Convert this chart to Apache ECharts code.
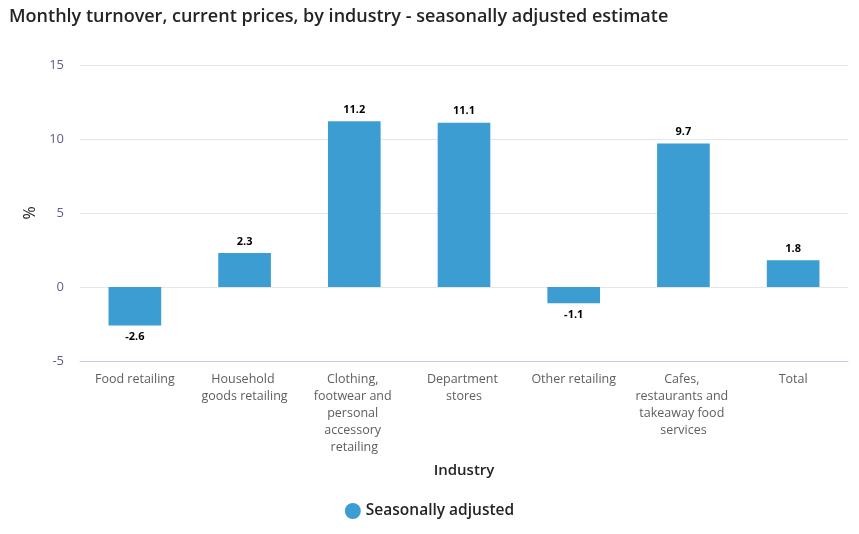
<!DOCTYPE html>
<html><head><meta charset="utf-8">
<script src="https://cdn.jsdelivr.net/npm/echarts@6/dist/echarts.min.js"></script>
<style>html,body{margin:0;padding:0;background:#fff}#c{width:859px;height:534px}</style>
</head><body><div id="c"></div>
<script>
const categories = ["Food retailing","Household goods retailing","Clothing, footwear and personal accessory retailing","Department stores","Other retailing","Cafes, restaurants and takeaway food services","Total"];
const seasonallyAdjusted = [-2.6, 2.3, 11.2, 11.1, -1.1, 9.7, 1.8];
const yTicks = {min: -5, max: 15, interval: 5};
const FONT = "'Open Sans', 'Noto Sans', sans-serif";
const chart = echarts.init(document.getElementById('c'));
chart.setOption({
  animation: false,
  textStyle: {fontFamily: FONT},
  title: {text: "Monthly turnover, current prices, by industry - seasonally adjusted estimate", left: 4, top: 3,
    textStyle: {fontFamily: FONT, fontSize: 18, fontWeight: 600, color: '#252423'}},
  grid: {left: 80, right: 11, top: 65, bottom: 173, containLabel: false},
  legend: {bottom: 10, left: 'center', icon: 'circle', itemWidth: 16, itemHeight: 16, itemGap: 6,
    textStyle: {fontFamily: FONT, fontSize: 15.5, fontWeight: 600, color: '#252423'}},
  xAxis: {type: 'category', data: categories, name: 'Industry', nameLocation: 'middle', nameGap: 102,
    nameTextStyle: {fontFamily: FONT, fontSize: 15, fontWeight: 600, color: '#252423'},
    axisLine: {show: true, onZero: false, lineStyle: {color: '#c8c6e0'}}, axisTick: {show: false},
    axisLabel: {interval: 0, fontSize: 12.5, color: '#605e5c', width: 100, overflow: 'break', lineHeight: 17, margin: 10}},
  yAxis: {type: 'value', min: yTicks.min, max: yTicks.max, interval: yTicks.interval, name: '%', nameLocation: 'middle', nameGap: 38,
    nameTextStyle: {fontFamily: FONT, fontSize: 16, color: '#252423'},
    axisLine: {show: false}, axisTick: {show: false},
    axisLabel: {fontSize: 13, color: '#605e8a', margin: 16},
    splitLine: {lineStyle: {color: '#e6e6e6'}}},
  series: [{name: 'Seasonally adjusted', type: 'bar', barWidth: '48%',
    data: seasonallyAdjusted.map(v => ({value: v, label: {position: v < 0 ? 'bottom' : 'top'}})),
    itemStyle: {color: '#3c9dd2'},
    label: {show: true, fontSize: 11, fontWeight: 'bold', color: '#000', distance: 6,
      formatter: p => p.value.toFixed(1)}}]
});
</script></body></html>
